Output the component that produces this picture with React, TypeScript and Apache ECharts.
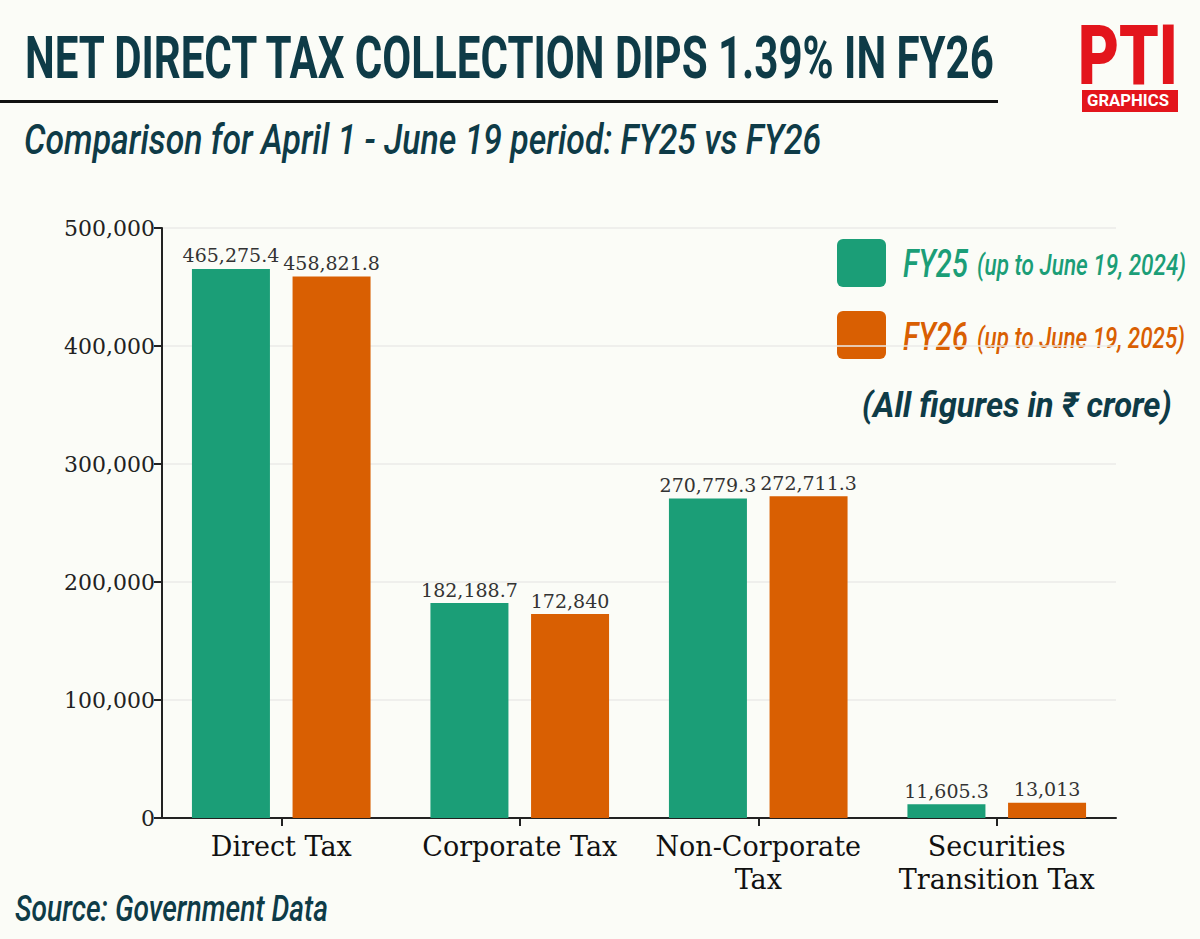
import React, { useEffect, useRef } from "react";
import * as echarts from "echarts";

// Categories and values (₹ crore), April 1 – June 19
const categories = ["Direct Tax", "Corporate Tax", "Non-Corporate\nTax", "Securities\nTransition Tax"];
const fy25Values = [465275.4, 182188.7, 270779.3, 11605.3];
const fy26Values = [458821.8, 172840, 272711.3, 13013];
const seriesNames = ["FY25", "FY26"];
const legendNotes = ["(up to June 19, 2024)", "(up to June 19, 2025)"];
const yMin = 0;
const yMax = 500000;
const yStep = 100000;

const GREEN = "#1b9e77";
const ORANGE = "#d95f02";
const INK = "#0e3b47";
const BG = "#fbfcf7";
const LOGO_RED = "#e3151c";
const SERIF = "'DejaVu Serif', serif";
const SANS = "Roboto, 'Noto Sans', sans-serif";

const fmt = (v: number) => v.toLocaleString("en-US", { maximumFractionDigits: 1 });

// Horizontal scale that squeezes a line of text into a given width
let measureCtx: CanvasRenderingContext2D | null = null;
function fitScale(text: string, font: string, width: number) {
  if (!measureCtx) measureCtx = document.createElement("canvas").getContext("2d");
  if (!measureCtx) return 1;
  measureCtx.font = font;
  const w = measureCtx.measureText(text).width;
  return w > 0 ? width / w : 1;
}

type TextSpec = {
  text: string;
  left: number;
  midY: number;
  width: number;
  size: number;
  weight: number | string;
  italic?: boolean;
  color: string;
  align?: "left" | "center";
};

function fittedText(s: TextSpec) {
  const font = `${s.italic ? "italic " : ""}${s.weight} ${s.size}px Roboto`;
  const sx = fitScale(s.text, font, s.width);
  return {
    type: "text",
    x: s.align === "center" ? s.left + s.width / 2 : s.left,
    y: s.midY,
    scaleX: sx,
    silent: true,
    style: {
      text: s.text,
      fill: s.color,
      fontSize: s.size,
      fontWeight: s.weight,
      fontStyle: s.italic ? "italic" : "normal",
      fontFamily: SANS,
      align: s.align || "left",
      verticalAlign: "middle",
    },
  };
}

export default function App() {
  const ref = useRef<HTMLDivElement>(null);

  useEffect(() => {
    document.body.style.margin = "0";
    document.body.style.background = BG;
    if (!ref.current) return;
    const chart = echarts.init(ref.current, null, { renderer: "svg" });

    const barLabel = {
      show: true,
      position: "top",
      distance: 4,
      fontFamily: SERIF,
      fontSize: 19,
      color: "#333",
      formatter: (p: any) => fmt(p.value),
    };

    const graphics: any[] = [
      fittedText({ text: "NET DIRECT TAX COLLECTION DIPS 1.39% IN FY26", left: 25, midY: 58, width: 972, size: 59, weight: 700, color: INK }),
      { type: "rect", silent: true, shape: { x: 0, y: 100, width: 998, height: 3 }, style: { fill: "#111" } },
      fittedText({ text: "Comparison for April 1 - June 19 period: FY25 vs FY26", left: 24, midY: 140, width: 798, size: 42, weight: 500, italic: true, color: INK }),
      fittedText({ text: "Source: Government Data", left: 15, midY: 909, width: 313, size: 36, weight: 500, italic: true, color: INK }),
      // legend
      { type: "rect", silent: true, shape: { x: 837, y: 239, width: 49, height: 48, r: 6 }, style: { fill: GREEN } },
      { type: "rect", silent: true, shape: { x: 837, y: 311, width: 49, height: 48, r: 6 }, style: { fill: ORANGE } },
      fittedText({ text: seriesNames[0], left: 903, midY: 264.5, width: 65, size: 38, weight: 500, italic: true, color: GREEN }),
      fittedText({ text: legendNotes[0], left: 977, midY: 264, width: 209, size: 30, weight: 500, italic: true, color: GREEN }),
      fittedText({ text: seriesNames[1], left: 903, midY: 337, width: 65, size: 38, weight: 500, italic: true, color: ORANGE }),
      fittedText({ text: legendNotes[1], left: 977, midY: 337, width: 208, size: 30, weight: 500, italic: true, color: ORANGE }),
      fittedText({ text: "(All figures in ₹ crore)", left: 862, midY: 405.5, width: 310, size: 35, weight: 700, italic: true, color: INK }),
      // PTI graphics mark
      fittedText({ text: "PTI", left: 1078, midY: 55, width: 100, size: 84, weight: 900, color: LOGO_RED }),
      { type: "rect", silent: true, shape: { x: 1082, y: 90, width: 96, height: 22 }, style: { fill: LOGO_RED } },
      fittedText({ text: "GRAPHICS", left: 1087, midY: 101, width: 82, size: 16, weight: 700, color: "#fff" }),
    ];

    chart.setOption({
      animation: false,
      backgroundColor: BG,
      grid: { left: 162, right: 84, top: 228, bottom: 121, containLabel: false, outerBoundsMode: "none" },
      xAxis: {
        type: "category",
        data: categories,
        axisLine: { show: true, lineStyle: { color: "#222", width: 2 } },
        axisTick: { show: true, alignWithLabel: true, length: 8, lineStyle: { color: "#222", width: 2 } },
        axisLabel: {
          fontFamily: SERIF,
          fontSize: 27,
          lineHeight: 33,
          color: "#111",
          margin: 12,
          interval: 0,
        },
      },
      yAxis: {
        type: "value",
        min: yMin,
        max: yMax,
        interval: yStep,
        axisLine: { show: true, lineStyle: { color: "#222", width: 2 } },
        axisTick: { show: true, length: 8, lineStyle: { color: "#222", width: 2 } },
        axisLabel: {
          fontFamily: SERIF,
          fontSize: 22,
          color: "#222",
          margin: 7,
          formatter: (v: number) => fmt(v),
        },
        splitLine: { show: true, lineStyle: { color: "#ebebe8", width: 1.5 } },
      },
      series: [
        {
          name: seriesNames[0],
          type: "bar",
          data: fy25Values,
          barWidth: 78,
          barGap: "29%",
          itemStyle: { color: GREEN },
          label: barLabel,
        },
        {
          name: seriesNames[1],
          type: "bar",
          data: fy26Values,
          barWidth: 78,
          barGap: "29%",
          itemStyle: { color: ORANGE },
          label: barLabel,
        },
      ],
      graphic: graphics,
    });

    return () => chart.dispose();
  }, []);

  return (
    <div
      ref={ref}
      style={{ width: 1200, height: 939, position: "absolute", left: 0, top: 0, background: BG }}
    />
  );
}
